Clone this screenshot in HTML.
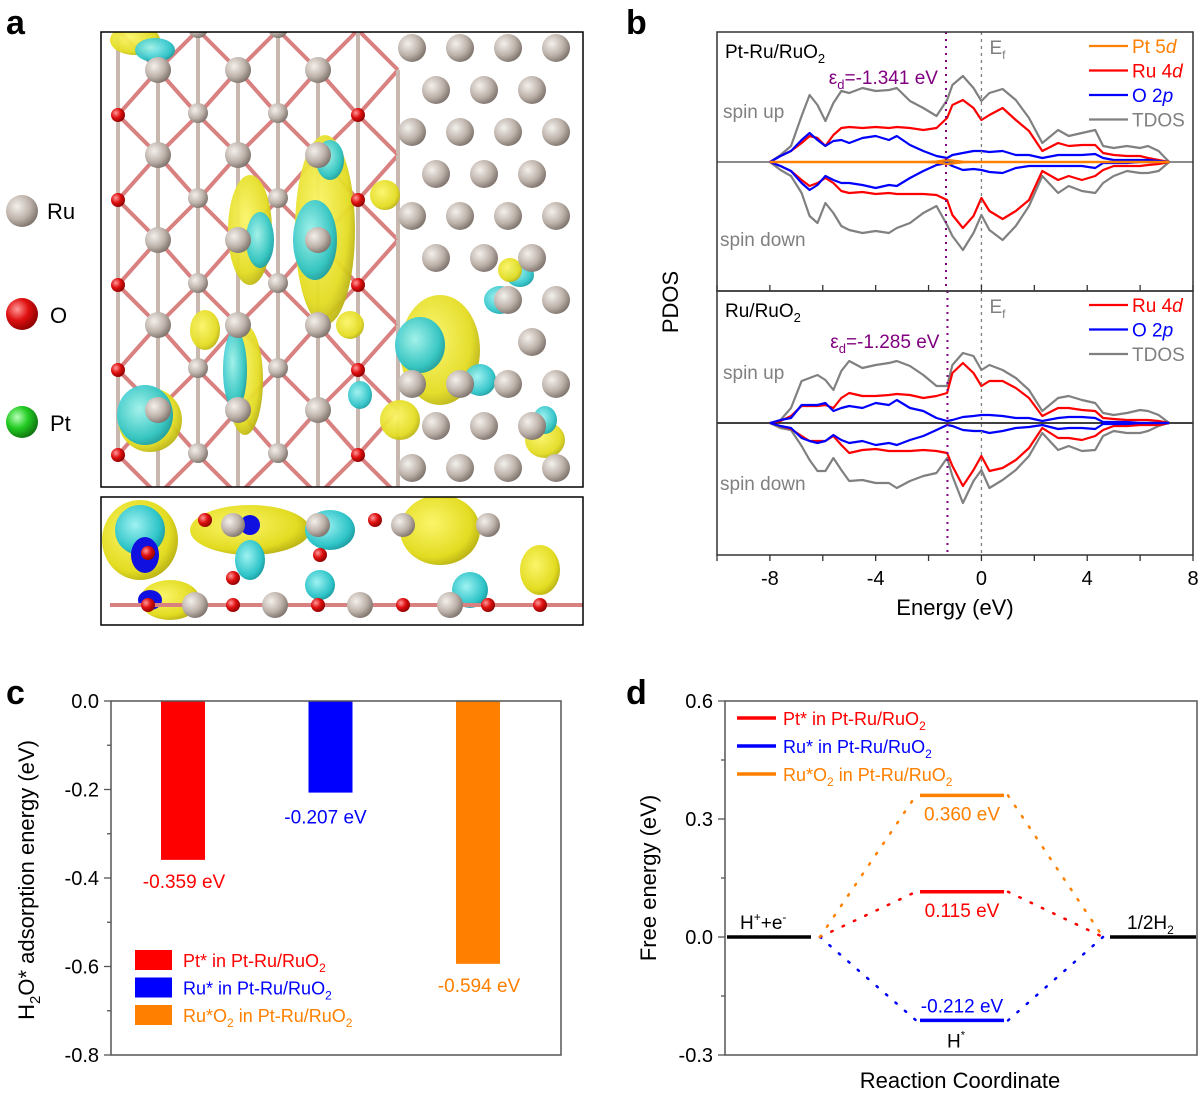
<!DOCTYPE html>
<html><head><meta charset="utf-8">
<style>
body{margin:0;background:#fff;}
svg{display:block;font-family:"Liberation Sans",Arial,sans-serif;}
</style></head>
<body>
<svg id="fig" width="1200" height="1097" viewBox="0 0 1200 1097" xmlns="http://www.w3.org/2000/svg">
<defs>
<radialGradient id="gRu" cx="0.35" cy="0.35" r="0.7"><stop offset="0" stop-color="#f4f0ec"/><stop offset="0.6" stop-color="#bdb2aa"/><stop offset="1" stop-color="#7d726b"/></radialGradient>
<radialGradient id="gO" cx="0.35" cy="0.35" r="0.7"><stop offset="0" stop-color="#ff9a9a"/><stop offset="0.5" stop-color="#e01010"/><stop offset="1" stop-color="#8a0000"/></radialGradient>
<radialGradient id="gPt" cx="0.35" cy="0.35" r="0.7"><stop offset="0" stop-color="#b8ffb8"/><stop offset="0.5" stop-color="#22cc22"/><stop offset="1" stop-color="#107010"/></radialGradient>
<radialGradient id="gY" cx="0.4" cy="0.4" r="0.7"><stop offset="0" stop-color="#fbf56a"/><stop offset="0.7" stop-color="#e3dc22"/><stop offset="1" stop-color="#a9a210"/></radialGradient>
<radialGradient id="gC" cx="0.4" cy="0.4" r="0.7"><stop offset="0" stop-color="#9ff2f2"/><stop offset="0.7" stop-color="#2ec4c8"/><stop offset="1" stop-color="#168c92"/></radialGradient>
<clipPath id="clipA1"><rect x="101" y="32" width="482" height="455"/></clipPath>
<clipPath id="clipA2"><rect x="101" y="497" width="482" height="128"/></clipPath>
<clipPath id="clipB1"><rect x="717" y="32" width="476" height="259"/></clipPath>
<clipPath id="clipB2"><rect x="717" y="291" width="476" height="264"/></clipPath>
</defs>

<text x="6" y="34" font-size="34" font-weight="bold">a</text>
<text x="626" y="34" font-size="34" font-weight="bold">b</text>
<text x="6" y="704" font-size="34" font-weight="bold">c</text>
<text x="626" y="704" font-size="34" font-weight="bold">d</text>

<g>
<circle cx="22" cy="211" r="16" fill="url(#gRu)"/><text x="47" y="219" font-size="22">Ru</text>
<circle cx="22" cy="314" r="16" fill="url(#gO)"/><text x="50" y="323" font-size="22">O</text>
<circle cx="22" cy="422" r="16" fill="url(#gPt)"/><text x="50" y="431" font-size="22">Pt</text>
</g>
<g id="structTop" clip-path="url(#clipA1)"></g>
<rect x="101" y="32" width="482" height="455" fill="none" stroke="#000" stroke-width="1.5"/>
<g id="structSide" clip-path="url(#clipA2)"></g>
<rect x="101" y="497" width="482" height="128" fill="none" stroke="#000" stroke-width="1.5"/>

<g id="panelB"></g>
<g id="panelC"></g>
<g id="panelD"></g>
</svg>

<script>
// ---------- PANEL B DATA ----------
const energies = [-8,-7.6,-7.2,-6.8,-6.5,-6.2,-5.9,-5.6,-5.3,-5.0,-4.5,-4.0,-3.5,-3.2,-2.7,-2.2,-1.7,-1.3,-1.1,-0.7,-0.3,0,0.3,0.8,1.3,1.8,2.3,2.9,3.3,3.8,4.3,4.6,5.0,5.5,6.0,6.3,6.7,7.1];
const ptruTdosUp  = [0,7,16,46,67,57,41,59,71,69,74,71,72,74,61,54,46,62,77,86,74,61,69,73,62,44,19,32,26,29,32,16,14,16,14,16,11,0];
const ptruRuUp    = [0,6,11,19,26,24,16,27,34,35,34,35,34,35,34,32,34,44,57,62,54,42,47,54,42,31,11,19,16,17,17,9,7,6,6,4,2,0];
const ptruOUp     = [0,6,11,22,29,22,16,21,22,19,24,26,22,26,17,11,6,4,7,9,11,11,10,11,7,7,4,7,7,7,8,4,2,2,2,2,1,0];
const ptruPtUp    = [0,0,0,0,0,0,0,0,0,0,0,0,0,0,0,0,0.5,2,1.5,0.3,0,0,0,0,0,0,0,0,0,0,0,0,0,0,0,0,0,0];
const ptruTdosDn  = [0,8,14,31,54,61,41,51,64,68,71,69,71,66,61,51,44,63,74,88,71,53,68,78,64,44,14,31,24,29,31,21,14,9,11,11,9,0];
const ptruRuDn    = [0,4,9,18,24,21,16,21,29,31,30,32,31,32,32,32,33,38,53,66,54,36,49,57,49,38,9,18,14,18,14,8,4,4,4,3,2,0];
const ptruODn     = [0,4,9,21,28,23,14,18,21,21,23,26,23,24,16,9,3,1,4,8,7,8,10,11,6,4,4,4,4,4,6,1,1,1,0,0,0,0];
const ptruPtDn    = [0,0,0,0,0,0,0,0,0,0,0,0,0,0,0,0,0.5,2,1.5,0.3,0,0,0,0,0,0,0,0,0,0,0,0,0,0,0,0,0,0];
const ruTdosUp    = [0,3,15,42,45,48,43,33,52,62,55,58,60,62,57,48,37,37,58,70,67,53,58,53,45,33,12,25,27,23,20,10,8,10,13,12,8,0];
const ruRuUp      = [0,2,7,17,17,17,18,15,25,30,27,27,28,29,28,25,27,30,50,60,50,37,42,42,35,25,7,15,15,13,12,5,4,3,3,3,2,0];
const ruOUp       = [0,3,5,18,18,18,20,12,15,17,15,20,18,23,15,12,5,2,3,6,7,8,8,7,5,5,2,5,6,6,5,1,1,1,0,0,0,0];
const ruTdosDn    = [0,5,7,23,37,48,48,35,47,58,57,60,60,65,58,53,50,35,53,80,58,47,65,57,47,33,10,27,23,28,27,13,8,10,10,8,3,0];
const ruRuDn      = [0,3,6,13,18,18,18,13,22,30,27,26,28,28,28,27,28,30,43,63,47,33,48,45,37,25,5,15,15,17,13,7,3,3,2,2,2,0];
const ruODn       = [0,3,5,15,18,20,18,12,17,20,18,22,20,22,17,13,7,2,3,7,8,8,10,8,5,4,2,6,5,5,6,1,1,1,0,0,0,0];
const dCenters    = [-1.341, -1.285];
const xTicksB     = [-8,-4,0,4,8];

// ---------- PANEL C DATA ----------
const adsCategories = ["Pt* in Pt-Ru/RuO2","Ru* in Pt-Ru/RuO2","Ru*O2 in Pt-Ru/RuO2"];
const adsValues     = [-0.359, -0.207, -0.594];
const adsLabels     = ["-0.359 eV","-0.207 eV","-0.594 eV"];
const yTicksC       = [0.0,-0.2,-0.4,-0.6,-0.8];

// ---------- PANEL D DATA ----------
const hSites        = ["Pt* in Pt-Ru/RuO2","Ru* in Pt-Ru/RuO2","Ru*O2 in Pt-Ru/RuO2"];
const hEnergies     = [0.115, -0.212, 0.360];
const hLabels       = ["0.115 eV","-0.212 eV","0.360 eV"];
const yTicksD       = [0.6, 0.3, 0.0, -0.3];

const NS = "http://www.w3.org/2000/svg";
function mk(parent, tag, attrs, txt){
  const e = document.createElementNS(NS, tag);
  for (const k in attrs) e.setAttribute(k, attrs[k]);
  if (txt !== undefined) e.textContent = txt;
  parent.appendChild(e);
  return e;
}
function subText(t, str){
  const parts = str.split('O2');
  let pending = 0;
  parts.forEach((p,j)=>{
    if (p) { const a = {}; if (pending) { a.dy = -pending; pending = 0; } mk(t,'tspan',a,p); }
    if (j<parts.length-1){ const a={}; if (pending){a.dy=-pending; pending=0;} mk(t,'tspan',a,'O'); mk(t,'tspan',{'font-size':12,dy:5},'2'); pending=5; }
  });
}
const RED="#ff0000", BLUE="#0000ff", ORANGE="#ff8000", GRAY="#808080", PURPLE="#800080";

// ================= PANEL A (illustrative structure) =================
(function(){
  const g = document.getElementById('structTop');
  mk(g,'rect',{x:101,y:32,width:482,height:455,fill:'#fff'});
  const gx=[118,158,198,238,278,318,358,398], gy=[30,70,115,155,200,240,285,325,370,410,455,495];
  for (let i=0;i<gx.length;i++) for (let j=0;j<gy.length;j++){
    if ((i+j)%2) continue;
    if (i+1<gx.length) mk(g,'line',{x1:gx[i],y1:gy[j],x2:gx[i+1],y2:gy[j+1]||gy[j],stroke:'#d98080','stroke-width':4});
    if (i>0 && j+1<gy.length) mk(g,'line',{x1:gx[i],y1:gy[j],x2:gx[i-1],y2:gy[j+1],stroke:'#d98080','stroke-width':4});
    if (j+2<gy.length) mk(g,'line',{x1:gx[i],y1:gy[j],x2:gx[i],y2:gy[j+2],stroke:'#c8b8b0','stroke-width':4});
  }
  const blobs=[
    ['gY',325,230,30,95],['gY',440,350,40,55],['gY',150,420,32,32],['gY',250,230,22,55],['gY',245,380,18,55],
    ['gY',135,40,25,15],['gY',400,420,20,20],['gY',545,440,20,18],['gY',205,330,15,20],['gY',385,195,15,15],
    ['gC',145,415,28,30],['gC',315,240,22,40],['gC',330,160,14,20],['gC',420,345,25,28],['gC',260,240,14,28],
    ['gC',235,370,12,40],['gC',155,50,20,12],['gC',500,300,16,14],['gC',520,275,14,12],['gC',480,380,16,16],
    ['gC',360,395,12,14],['gC',545,420,12,14],['gY',510,270,12,12],['gY',350,325,14,14]
  ];
  for (const b of blobs) mk(g,'ellipse',{cx:b[1],cy:b[2],rx:b[3],ry:b[4],fill:'url(#'+b[0]+')',opacity:0.95});
  for (const x of [158,238,318]) for (const y of [70,155,240,325,410]) mk(g,'circle',{cx:x,cy:y,r:13,fill:'url(#gRu)'});
  for (const x of [118,198,278,358]) for (const y of [115,200,285,370,455]) mk(g,'circle',{cx:x,cy:y,r:7,fill:'url(#gO)'});
  for (const x of [198,278]) for (const y of [30,115,200,285,370,455]) mk(g,'circle',{cx:x,cy:y-2,r:10,fill:'url(#gRu)'});
  for (let r=0;r<11;r++){
    const y = 48 + r*42;
    for (let k=0;k<5;k++){
      const x = 412 + (r%2)*24 + k*48;
      if (x>570) continue;
      if ((r===6||r===7) && k<2) continue;
      mk(g,'circle',{cx:x,cy:y,r:14,fill:'url(#gRu)'});
    }
  }
  const s = document.getElementById('structSide');
  mk(s,'rect',{x:101,y:497,width:482,height:128,fill:'#fff'});
  const sb=[['gY',140,540,38,40],['gC',140,530,25,25],['gY',250,530,60,25],['gY',440,530,40,35],['gC',330,530,25,20],
    ['gC',250,560,15,20],['gY',540,570,20,25],['gC',470,590,18,18],['gY',170,600,30,20],['gC',320,585,15,15]];
  for (const b of sb) mk(s,'ellipse',{cx:b[1],cy:b[2],rx:b[3],ry:b[4],fill:'url(#'+b[0]+')'});
  mk(s,'ellipse',{cx:145,cy:555,rx:14,ry:18,fill:'#1010e0'});
  mk(s,'ellipse',{cx:150,cy:600,rx:12,ry:10,fill:'#1010e0'});
  mk(s,'ellipse',{cx:250,cy:525,rx:10,ry:10,fill:'#1010e0'});
  mk(s,'line',{x1:110,y1:605,x2:583,y2:605,stroke:'#d98080','stroke-width':4});
  for (const x of [148,233,318,403,488,540]) mk(s,'circle',{cx:x,cy:605,r:7,fill:'url(#gO)'});
  for (const x of [233,318,403,488]) mk(s,'circle',{cx:x,cy:525,r:12,fill:'url(#gRu)'});
  for (const x of [195,275,360,450]) mk(s,'circle',{cx:x,cy:605,r:13,fill:'url(#gRu)'});
  for (const [x,y] of [[233,578],[320,555],[148,553],[205,520],[375,520]]) mk(s,'circle',{cx:x,cy:y,r:7,fill:'url(#gO)'});
})();

// ================= PANEL B =================
(function(){
  const g = document.getElementById('panelB');
  const X0=717, X1=1193;
  const xScale = e => X0 + (e+10)*(X1-X0)/18;
  const panels = [
    {top:32, bot:291, base:162, clip:'clipB1', name:'pt-ru', title:'Pt-Ru/RuO', ed:dCenters[0],
     series:[[ptruTdosUp,ptruTdosDn,GRAY,'tdos'],[ptruRuUp,ptruRuDn,RED,'ru-4d'],[ptruOUp,ptruODn,BLUE,'o-2p'],[ptruPtUp,ptruPtDn,ORANGE,'pt-5d']],
     legend:[['Pt 5','d',ORANGE],['Ru 4','d',RED],['O 2','p',BLUE],['TDOS','',GRAY]]},
    {top:291, bot:555, base:423, clip:'clipB2', name:'ru', title:'Ru/RuO', ed:dCenters[1],
     series:[[ruTdosUp,ruTdosDn,GRAY,'tdos'],[ruRuUp,ruRuDn,RED,'ru-4d'],[ruOUp,ruODn,BLUE,'o-2p']],
     legend:[['Ru 4','d',RED],['O 2','p',BLUE],['TDOS','',GRAY]]}
  ];
  panels.forEach((p,pi)=>{
    const yScale = v => p.base - v;
    const yScaleDn = v => p.base + v;
    const cg = mk(g,'g',{'clip-path':'url(#'+p.clip+')'});
    
    
    const bl = mk(cg,'line',{x1:X0,y1:p.base,x2:X1,y2:p.base,stroke:pi===0?'#666':'#000','stroke-width':1.5});
    
    
    p.series.forEach(s=>{
      const up = energies.map((e,i)=>xScale(e).toFixed(1)+','+yScale(s[0][i]).toFixed(1)).join(' ');
      const dn = energies.map((e,i)=>xScale(e).toFixed(1)+','+yScaleDn(s[1][i]).toFixed(1)).join(' ');
      const a = mk(cg,'polyline',{points:up,fill:'none',stroke:s[2],'stroke-width':2.2,'stroke-linejoin':'round'});
      
      
      const b = mk(cg,'polyline',{points:dn,fill:'none',stroke:s[2],'stroke-width':2.2,'stroke-linejoin':'round'});
      
      
    });
    const dl = mk(g,'line',{x1:xScale(p.ed),y1:p.top,x2:xScale(p.ed),y2:p.bot,stroke:PURPLE,'stroke-width':2,'stroke-dasharray':'2,5'});
    
    
    const ef = mk(g,'line',{x1:xScale(0),y1:p.top,x2:xScale(0),y2:p.bot,stroke:GRAY,'stroke-width':1.3,'stroke-dasharray':'3,4'});
    
    
    const fr = mk(g,'rect',{x:X0,y:p.top,width:X1-X0,height:p.bot-p.top,fill:'none',stroke:'#333','stroke-width':1.5});
    
    
    for (let e=-10;e<=8;e+=2){
      const t = mk(g,'line',{x1:xScale(e),y1:p.bot,x2:xScale(e),y2:p.bot+(pi===0?-6:6),stroke:'#333','stroke-width':1.3});
      
      
    }
    const tt = mk(g,'text',{x:725,y:p.top+26,'font-size':19});
    
    
    tt.textContent = p.title;
    mk(tt,'tspan',{'font-size':13,dy:5},'2');
    const el = mk(g,'text',{x:xScale(p.ed)-8,y:p.top+(pi===0?52:57),'font-size':19,fill:PURPLE,'text-anchor':'end'});
    
    
    el.textContent='ε';
    mk(el,'tspan',{'font-size':13,dy:5},'d');
    mk(el,'tspan',{dy:-5},'='+p.ed.toFixed(3)+' eV');
    const efl = mk(g,'text',{x:xScale(0)+8,y:p.top+22,'font-size':19,fill:GRAY});
    
    
    efl.textContent='E';
    mk(efl,'tspan',{'font-size':12,dy:5},'f');
    const su = mk(g,'text',{x:723,y:p.base-44,'font-size':19,fill:GRAY},'spin up');
    
    
    const sd = mk(g,'text',{x:720,y:p.base+(pi===0?84:67),'font-size':19,fill:GRAY},'spin down');
    
    
    p.legend.forEach((L,i)=>{
      const ly = p.top + 14 + i*24.5;
      const ll = mk(g,'line',{x1:1089,y1:ly,x2:1128,y2:ly,stroke:L[2],'stroke-width':2.2});
      
      
      const lt = mk(g,'text',{x:1132,y:ly+7,'font-size':19,fill:L[2]},L[0]);
      
      
      if (L[1]) mk(lt,'tspan',{'font-style':'italic'},L[1]);
    });
  });
  xTicksB.forEach(e=>{
    const t = mk(g,'text',{x:xScale(e),y:585,'font-size':20,'text-anchor':'middle'}, String(e));
    
    
  });
  const xt = mk(g,'text',{x:955,y:615,'font-size':22,'text-anchor':'middle'},'Energy (eV)');
  
  
  const yt = mk(g,'text',{x:0,y:0,'font-size':22,'text-anchor':'middle',transform:'translate(678,302) rotate(-90)'},'PDOS');
  
  
})();

// ================= PANEL C =================
(function(){
  const g = document.getElementById('panelC');
  const L=111, R=561, T=701, B=1055;
  const yScale = v => T + (0 - v)*(B-T)/0.8;
  const xCenter = i => 183 + i*147.5;
  const colors=[RED,BLUE,ORANGE];
  adsValues.forEach((v,i)=>{
    const r = mk(g,'rect',{x:xCenter(i)-22,y:yScale(0),width:44,height:yScale(v)-yScale(0),fill:colors[i]});
    
    
    const t = mk(g,'text',{x:xCenter(i)+(i===1?-5:1),y:yScale(v)+(i===1?31:28),'font-size':19,fill:colors[i],'text-anchor':'middle'},adsLabels[i]);
    
    
  });
  const fr = mk(g,'rect',{x:L,y:T,width:R-L,height:B-T,fill:'none',stroke:'#555','stroke-width':1.5});
  
  
  for (let k=0;k<=8;k++){
    const v=-k/10;
    const tk = mk(g,'line',{x1:L-(k%2?4:7),y1:yScale(v),x2:L,y2:yScale(v),stroke:'#555','stroke-width':1.3});
    
    
  }
  yTicksC.forEach(v=>{
    const t = mk(g,'text',{x:L-12,y:yScale(v)+7,'font-size':20,'text-anchor':'end'},v.toFixed(1));
    
    
  });
  adsCategories.forEach((c,i)=>{
    const y = 950 + i*27.5;
    const sw = mk(g,'rect',{x:135,y:y,width:37,height:20,fill:colors[i]});
    
    
    const t = mk(g,'text',{x:183,y:y+17,'font-size':18,fill:colors[i]});
    
    
    subText(t,c);
  });
  const yt = mk(g,'text',{x:0,y:0,'font-size':22,'text-anchor':'middle',transform:'translate(34,880) rotate(-90)'});
  
  
  mk(yt,'tspan',{},'H');
  mk(yt,'tspan',{'font-size':15,dy:6},'2');
  mk(yt,'tspan',{dy:-6},'O* adsorption energy (eV)');
})();

// ================= PANEL D =================
(function(){
  const g = document.getElementById('panelD');
  const L=725, R=1197, T=701, B=1055;
  const yScale = v => T + (0.6 - v)*(B-T)/0.9;
  const colors=[RED,BLUE,ORANGE];
  const fr = mk(g,'rect',{x:L,y:T,width:R-L,height:B-T,fill:'none',stroke:'#555','stroke-width':1.5});
  
  
  for (let k=0;k<=6;k++){
    const v=0.6-k*0.15;
    const tk = mk(g,'line',{x1:L-(k%2?4:7),y1:yScale(v),x2:L,y2:yScale(v),stroke:'#555','stroke-width':1.3});
    
    
  }
  yTicksD.forEach(v=>{
    const t = mk(g,'text',{x:L-12,y:yScale(v)+7,'font-size':20,'text-anchor':'end'},v.toFixed(1));
    
    
  });
  const s0 = mk(g,'line',{x1:727,y1:yScale(0),x2:811,y2:yScale(0),stroke:'#000','stroke-width':3.5});
  
  
  const s2 = mk(g,'line',{x1:1110,y1:yScale(0),x2:1196,y2:yScale(0),stroke:'#000','stroke-width':3.5});
  
  
  const lab0 = mk(g,'text',{x:740,y:yScale(0)-8,'font-size':19});
  
  
  mk(lab0,'tspan',{},'H'); mk(lab0,'tspan',{'font-size':12,dy:-8},'+'); mk(lab0,'tspan',{dy:8},'+e'); mk(lab0,'tspan',{'font-size':12,dy:-8},'-');
  const lab2 = mk(g,'text',{x:1127,y:yScale(0)-8,'font-size':19});
  
  
  mk(lab2,'tspan',{},'1/2H'); mk(lab2,'tspan',{'font-size':12,dy:5},'2');
  hEnergies.forEach((v,i)=>{
    const c=colors[i];
    const x1 = 920, x2 = 1004;
    const d1 = mk(g,'line',{x1:820,y1:yScale(0),x2:x1-4,y2:yScale(v),stroke:c,'stroke-width':2.5,'stroke-dasharray':'1.5,11','stroke-linecap':'round'});
    
    
    const d2 = mk(g,'line',{x1:x2+4,y1:yScale(v),x2:1103,y2:yScale(0),stroke:c,'stroke-width':2.5,'stroke-dasharray':'1.5,11','stroke-linecap':'round'});
    
    
    const lv = mk(g,'line',{x1:x1,y1:yScale(v),x2:x2,y2:yScale(v),stroke:c,'stroke-width':3.5});
    
    
    const t = mk(g,'text',{x:962,y:v<0?yScale(v)-8:yScale(v)+25,'font-size':19,fill:c,'text-anchor':'middle'},hLabels[i]);
    
    
  });
  const hs = mk(g,'text',{x:956,y:yScale(-0.212)+27,'font-size':19,'text-anchor':'middle'});
  
  
  mk(hs,'tspan',{},'H'); mk(hs,'tspan',{'font-size':11,dy:-9},'*');
  hSites.forEach((c,i)=>{
    const y = 718 + i*28;
    const ln = mk(g,'line',{x1:737,y1:y,x2:776,y2:y,stroke:colors[i],'stroke-width':3.5});
    
    
    const t = mk(g,'text',{x:783,y:y+7,'font-size':18,fill:colors[i]});
    
    
    subText(t,c);
  });
  const xt = mk(g,'text',{x:960,y:1088,'font-size':22,'text-anchor':'middle'},'Reaction Coordinate');
  
  
  const yt = mk(g,'text',{x:0,y:0,'font-size':22,'text-anchor':'middle',transform:'translate(656,878) rotate(-90)'},'Free energy (eV)');
  
  
})();
</script>
</body></html>
